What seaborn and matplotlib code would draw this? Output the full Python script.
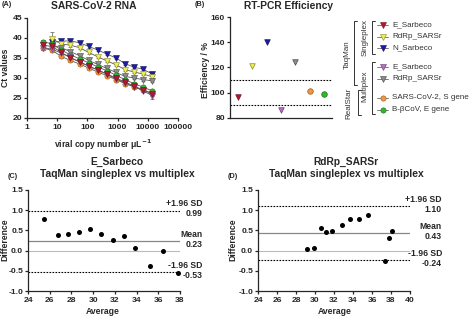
import numpy as np
import pandas as pd
import matplotlib
matplotlib.use("Agg")
import matplotlib.pyplot as plt
import matplotlib.ticker as mticker
from matplotlib.lines import Line2D
import seaborn as sns

# ---------------- data ----------------
copies = [3.4, 6.8, 13.7, 27, 55, 110, 220, 440, 880, 1760, 3500, 7000, 14000]

series_keys = ["E_single", "RdRp_single", "N_single", "E_multi", "RdRp_multi", "S_gene", "E_gene"]
legend_names = ["E_Sarbeco", "RdRp_SARSr", "N_Sarbeco", "E_Sarbeco", "RdRp_SARSr",
                "SARS-CoV-2, S gene", "B-\u03b2CoV, E gene"]

ct_e_single = [38.2, 37.9, 36.4, 35.1, 34.0, 33.0, 32.0, 31.0, 30.0, 29.0, 28.0, 27.0, 26.0]
ct_rdrp_single = [np.nan, 39.8, 38.5, 38.2, 37.6, 36.4, 35.3, 34.3, 33.3, 32.1, 31.5, 31.0, 30.3]
ct_n_single = [np.nan, 38.9, 39.2, 39.3, 38.8, 37.9, 37.0, 36.0, 35.0, 33.6, 32.7, 32.2, 31.0]
ct_e_multi = [37.6, 37.2, 36.2, 35.2, 34.0, 33.0, 32.0, 31.0, 29.8, 28.8, 27.8, 26.8, 25.6]
ct_rdrp_multi = [np.nan, 38.2, 37.6, 36.6, 35.6, 34.4, 33.4, 32.4, 31.4, 30.4, 30.0, 29.6, 29.3]
ct_s_gene = [37.5, 36.9, 35.4, 34.4, 33.5, 32.5, 31.5, 30.6, 29.6, 28.6, 27.8, 27.0, 26.2]
ct_e_gene = [39.1, 38.5, 37.0, 35.8, 34.8, 33.8, 32.8, 31.8, 30.7, 29.6, 28.6, 27.7, 26.8]

sd_e_single = [0.8, 0.5, 0.3, 0.5, 0.3, 0.3, 0.3, 0.3, 0.3, 0.3, 0.3, 0.3, 0.4]
sd_rdrp_single = [0.0, 1.7, 0.4, 0.5, 0.4, 0.3, 0.3, 0.3, 0.3, 0.3, 0.3, 0.3, 0.3]
sd_n_single = [0.0, 0.3, 0.4, 0.4, 0.5, 0.3, 0.3, 0.3, 0.3, 0.3, 0.3, 0.3, 0.3]
sd_e_multi = [0.5, 0.5, 0.4, 0.6, 0.4, 0.3, 0.3, 0.3, 0.3, 0.3, 0.3, 0.3, 0.8]
sd_rdrp_multi = [0.0, 0.4, 0.4, 0.4, 0.4, 0.3, 0.3, 0.3, 0.3, 0.3, 0.3, 0.3, 0.4]
sd_s_gene = [0.5, 0.4, 0.3, 0.3, 0.3, 0.3, 0.3, 0.3, 0.3, 0.3, 0.3, 0.3, 0.3]
sd_e_gene = [0.5, 0.4, 0.3, 0.3, 0.3, 0.3, 0.3, 0.3, 0.3, 0.3, 0.3, 0.3, 0.3]

efficiency = [97, 121, 140, 86, 124, 101, 99]

c_average = [25.5, 26.8, 27.7, 28.7, 29.7, 30.7, 31.8, 32.8, 33.9, 35.2, 36.4, 37.8]
c_difference = [0.79, 0.39, 0.41, 0.46, 0.54, 0.42, 0.27, 0.37, 0.06, -0.39, 0.00, -0.56]
c_lines = [0.99, 0.23, -0.53]

d_average = [29.2, 29.9, 30.65, 31.2, 31.8, 32.8, 33.7, 34.6, 35.6, 37.4, 37.8, 38.1]
d_difference = [0.05, 0.06, 0.55, 0.45, 0.48, 0.63, 0.79, 0.79, 0.87, -0.26, 0.31, 0.48]
d_lines = [1.10, 0.43, -0.24]

# ---------------- style ----------------
face = {"E_single": "#b5182e", "RdRp_single": "#eded55", "N_single": "#1c1ca8",
        "E_multi": "#b86fc0", "RdRp_multi": "#8c8c8c", "S_gene": "#f1953f", "E_gene": "#2fb82f"}
edge = {"E_single": "#6e1020", "RdRp_single": "#8a8a20", "N_single": "#0d0d60",
        "E_multi": "#6e3a78", "RdRp_multi": "#4a4a4a", "S_gene": "#9a5a20", "E_gene": "#1a6e1a"}
shape = {"E_single": "v", "RdRp_single": "v", "N_single": "v", "E_multi": "v",
         "RdRp_multi": "v", "S_gene": "o", "E_gene": "o"}

sns.set_theme(style="ticks")
plt.rcParams["font.family"] = ["Liberation Sans", "DejaVu Sans"]
plt.rcParams["font.weight"] = "bold"
plt.rcParams["axes.labelweight"] = "bold"
plt.rcParams["axes.linewidth"] = 0.9
plt.rcParams["xtick.major.width"] = 0.9
plt.rcParams["ytick.major.width"] = 0.9
plt.rcParams["xtick.major.size"] = 2.5
plt.rcParams["ytick.major.size"] = 2.5
plt.rcParams["xtick.major.pad"] = 1.5
plt.rcParams["ytick.major.pad"] = 1.0

W, H = 474, 323
fig = plt.figure(figsize=(W / 100, H / 100), dpi=100)
fig.patch.set_facecolor("white")


def rect(l, t, r, b):
    return [l / W, 1 - b / H, (r - l) / W, (b - t) / H]


def fx(x):
    return x / W


def fy(y):
    return 1 - y / H


TICK = 6.1
LABEL = 6.2
TITLE = 7.4
LEG = 5.8

# ---------------- (A) standard curves ----------------
axA = fig.add_axes(rect(27, 18, 178, 118))
ct_lists = [ct_e_single, ct_rdrp_single, ct_n_single, ct_e_multi, ct_rdrp_multi, ct_s_gene, ct_e_gene]
sd_lists = [sd_e_single, sd_rdrp_single, sd_n_single, sd_e_multi, sd_rdrp_multi, sd_s_gene, sd_e_gene]
long = pd.concat([pd.DataFrame({"copies": copies, "ct": c, "sd": s, "assay": k})
                  for k, c, s in zip(series_keys, ct_lists, sd_lists)], ignore_index=True)
draw_order = ["N_single", "RdRp_single", "RdRp_multi", "E_gene", "S_gene", "E_multi", "E_single"]
for k in draw_order:
    sub = long[long.assay == k].dropna()
    axA.errorbar(sub.copies, sub.ct, yerr=sub.sd, fmt="none", ecolor="#777777",
                 elinewidth=0.6, capsize=1.3, capthick=0.6, zorder=2)
    sns.lineplot(data=sub, x="copies", y="ct", ax=axA, color="#555555", lw=0.6,
                 marker=shape[k], markersize=3.8, markerfacecolor=face[k],
                 markeredgecolor=edge[k], markeredgewidth=0.4, legend=False, zorder=3)
axA.set_xscale("log")
axA.set_xlim(1, 100000)
axA.set_ylim(20, 45)
axA.set_yticks([20, 25, 30, 35, 40, 45])
axA.xaxis.set_major_locator(mticker.FixedLocator([1, 10, 100, 1000, 10000, 100000]))
axA.xaxis.set_major_formatter(mticker.FixedFormatter(["1", "10", "100", "1000", "10000", "100000"]))
axA.xaxis.set_minor_locator(mticker.NullLocator())
axA.tick_params(labelsize=TICK)
axA.set_xlabel("")
axA.set_ylabel("")
sns.despine(ax=axA)
fig.text(fx(103), fy(145), "viral copy number \u03bcL$^{-1}$", ha="center", va="center",
         fontsize=LABEL, fontweight="bold")
fig.text(fx(6), fy(68), "Ct values", rotation=90, ha="center", va="center",
         fontsize=LABEL, fontweight="bold")
fig.text(fx(94), fy(6), "SARS-CoV-2 RNA", ha="center", va="center", fontsize=TITLE, fontweight="bold")
fig.text(fx(2), fy(5), "(A)", ha="left", va="center", fontsize=5.2, fontweight="bold")

# ---------------- (B) efficiency ----------------
axB = fig.add_axes(rect(230, 17, 332, 118))
eff_df = pd.DataFrame({"assay": series_keys, "pos": range(len(series_keys)), "eff": efficiency})
for k in series_keys:
    sub = eff_df[eff_df.assay == k]
    sns.scatterplot(data=sub, x="pos", y="eff", ax=axB, marker=shape[k], s=16,
                    color=face[k], edgecolor=edge[k], linewidth=0.5, legend=False, zorder=3)
axB.axhline(110, color="black", lw=0.8, ls=(0, (1.5, 1.2)))
axB.axhline(90, color="black", lw=0.8, ls=(0, (1.5, 1.2)))
axB.set_xlim(-0.55, 6.55)
axB.set_ylim(80, 160)
axB.set_yticks([80, 100, 120, 140, 160])
axB.set_xticks([])
axB.tick_params(labelsize=TICK)
axB.set_xlabel("")
axB.set_ylabel("")
sns.despine(ax=axB)
fig.text(fx(205.5), fy(70), "Efficiency / %", rotation=90, ha="center", va="center",
         fontsize=LABEL, fontweight="bold")
fig.text(fx(289), fy(6), "RT-PCR Efficiency", ha="center", va="center", fontsize=TITLE, fontweight="bold")
fig.text(fx(195), fy(4), "(B)", ha="left", va="center", fontsize=5.2, fontweight="bold")

# legend with grouping brackets
entry_y = [25, 36.5, 48, 66.5, 79, 98, 110]
for k, name, y in zip(series_keys, legend_names, entry_y):
    fig.add_artist(Line2D([fx(377), fx(388)], [fy(y), fy(y)], color="#666666", lw=0.6))
    fig.add_artist(Line2D([fx(382.5)], [fy(y)], marker=shape[k], markersize=3.8, ls="none",
                          markerfacecolor=face[k], markeredgecolor=edge[k], markeredgewidth=0.4))
    fig.text(fx(392), fy(y), name, ha="left", va="center", fontsize=LEG,
             fontweight="normal", color="#333333")


def bracket(x, y0, y1):
    fig.add_artist(Line2D([fx(x + 2.5), fx(x), fx(x), fx(x + 2.5)],
                          [fy(y0), fy(y0), fy(y1), fy(y1)], color="#333333", lw=0.7))


bracket(372, 21, 54)
bracket(372, 62, 114)
bracket(354, 21, 85)
bracket(358, 90, 115)
for txt, x, y in [("Singleplex", 365, 37), ("Multiplex", 365, 86),
                  ("TaqMan", 347, 55), ("RealStar", 349, 103)]:
    fig.text(fx(x), fy(y), txt, rotation=90, ha="center", va="center", fontsize=LEG,
             fontweight="normal", color="#333333")


# ---------------- (C), (D) Bland-Altman ----------------
def bland_altman(ax, avg, diff, lines, xmax, label_off):
    df = pd.DataFrame({"Average": avg, "Difference": diff})
    ax.axhline(0, color="#bbbbbb", lw=0.8, zorder=1)
    ax.axhline(lines[1], color="#888888", lw=0.9, zorder=1)
    ax.axhline(lines[0], color="black", lw=0.8, ls=(0, (1.5, 1.2)), zorder=1)
    ax.axhline(lines[2], color="black", lw=0.8, ls=(0, (1.5, 1.2)), zorder=1)
    sns.scatterplot(data=df, x="Average", y="Difference", ax=ax, color="black",
                    s=13, linewidth=0, zorder=3)
    ax.set_xlim(24, xmax)
    ax.set_xticks(list(range(24, xmax + 1, 2)))
    ax.set_ylim(-1.0, 1.5)
    ax.set_yticks([-1.0, -0.5, 0.0, 0.5, 1.0, 1.5])
    ax.yaxis.set_major_formatter(mticker.FormatStrFormatter("%.1f"))
    ax.tick_params(labelsize=TICK)
    ax.set_xlabel("")
    ax.set_ylabel("")
    sns.despine(ax=ax)
    tr = ax.get_yaxis_transform()
    heads = ["+1.96 SD", "Mean", "-1.96 SD"]
    for head, val in zip(heads, lines):
        ax.annotate(head, xy=(1, val), xycoords=tr, xytext=(label_off, 5.0),
                    textcoords="offset points", ha="right", va="center",
                    fontsize=LABEL, fontweight="bold", annotation_clip=False)
        ax.annotate(f"{val:.2f}", xy=(1, val), xycoords=tr, xytext=(label_off, -2.4),
                    textcoords="offset points", ha="right", va="center",
                    fontsize=LABEL, fontweight="bold", annotation_clip=False)


axC = fig.add_axes(rect(28, 190, 180, 291))
bland_altman(axC, c_average, c_difference, c_lines, 38, 16)
axD = fig.add_axes(rect(258, 190, 410, 291))
bland_altman(axD, d_average, d_difference, d_lines, 40, 23)

for cx, name in [(117, "E_Sarbeco"), (346, "RdRp_SARSr")]:
    fig.text(fx(cx), fy(162), name, ha="center", va="center", fontsize=TITLE, fontweight="bold")
    fig.text(fx(cx), fy(174), "TaqMan singleplex vs multiplex", ha="center", va="center",
             fontsize=TITLE, fontweight="bold")
fig.text(fx(8), fy(176), "(C)", ha="left", va="center", fontsize=5.2, fontweight="bold")
fig.text(fx(228), fy(176), "(D)", ha="left", va="center", fontsize=5.2, fontweight="bold")
for x, cy in [(5, 240), (233, 240)]:
    fig.text(fx(x), fy(cy), "Difference", rotation=90, ha="center", va="center",
             fontsize=LABEL, fontweight="bold")
for cx in [103, 335]:
    fig.text(fx(cx), fy(311), "Average", ha="center", va="center", fontsize=LABEL, fontweight="bold")

fig.savefig("out.png", dpi=100, facecolor="white")
